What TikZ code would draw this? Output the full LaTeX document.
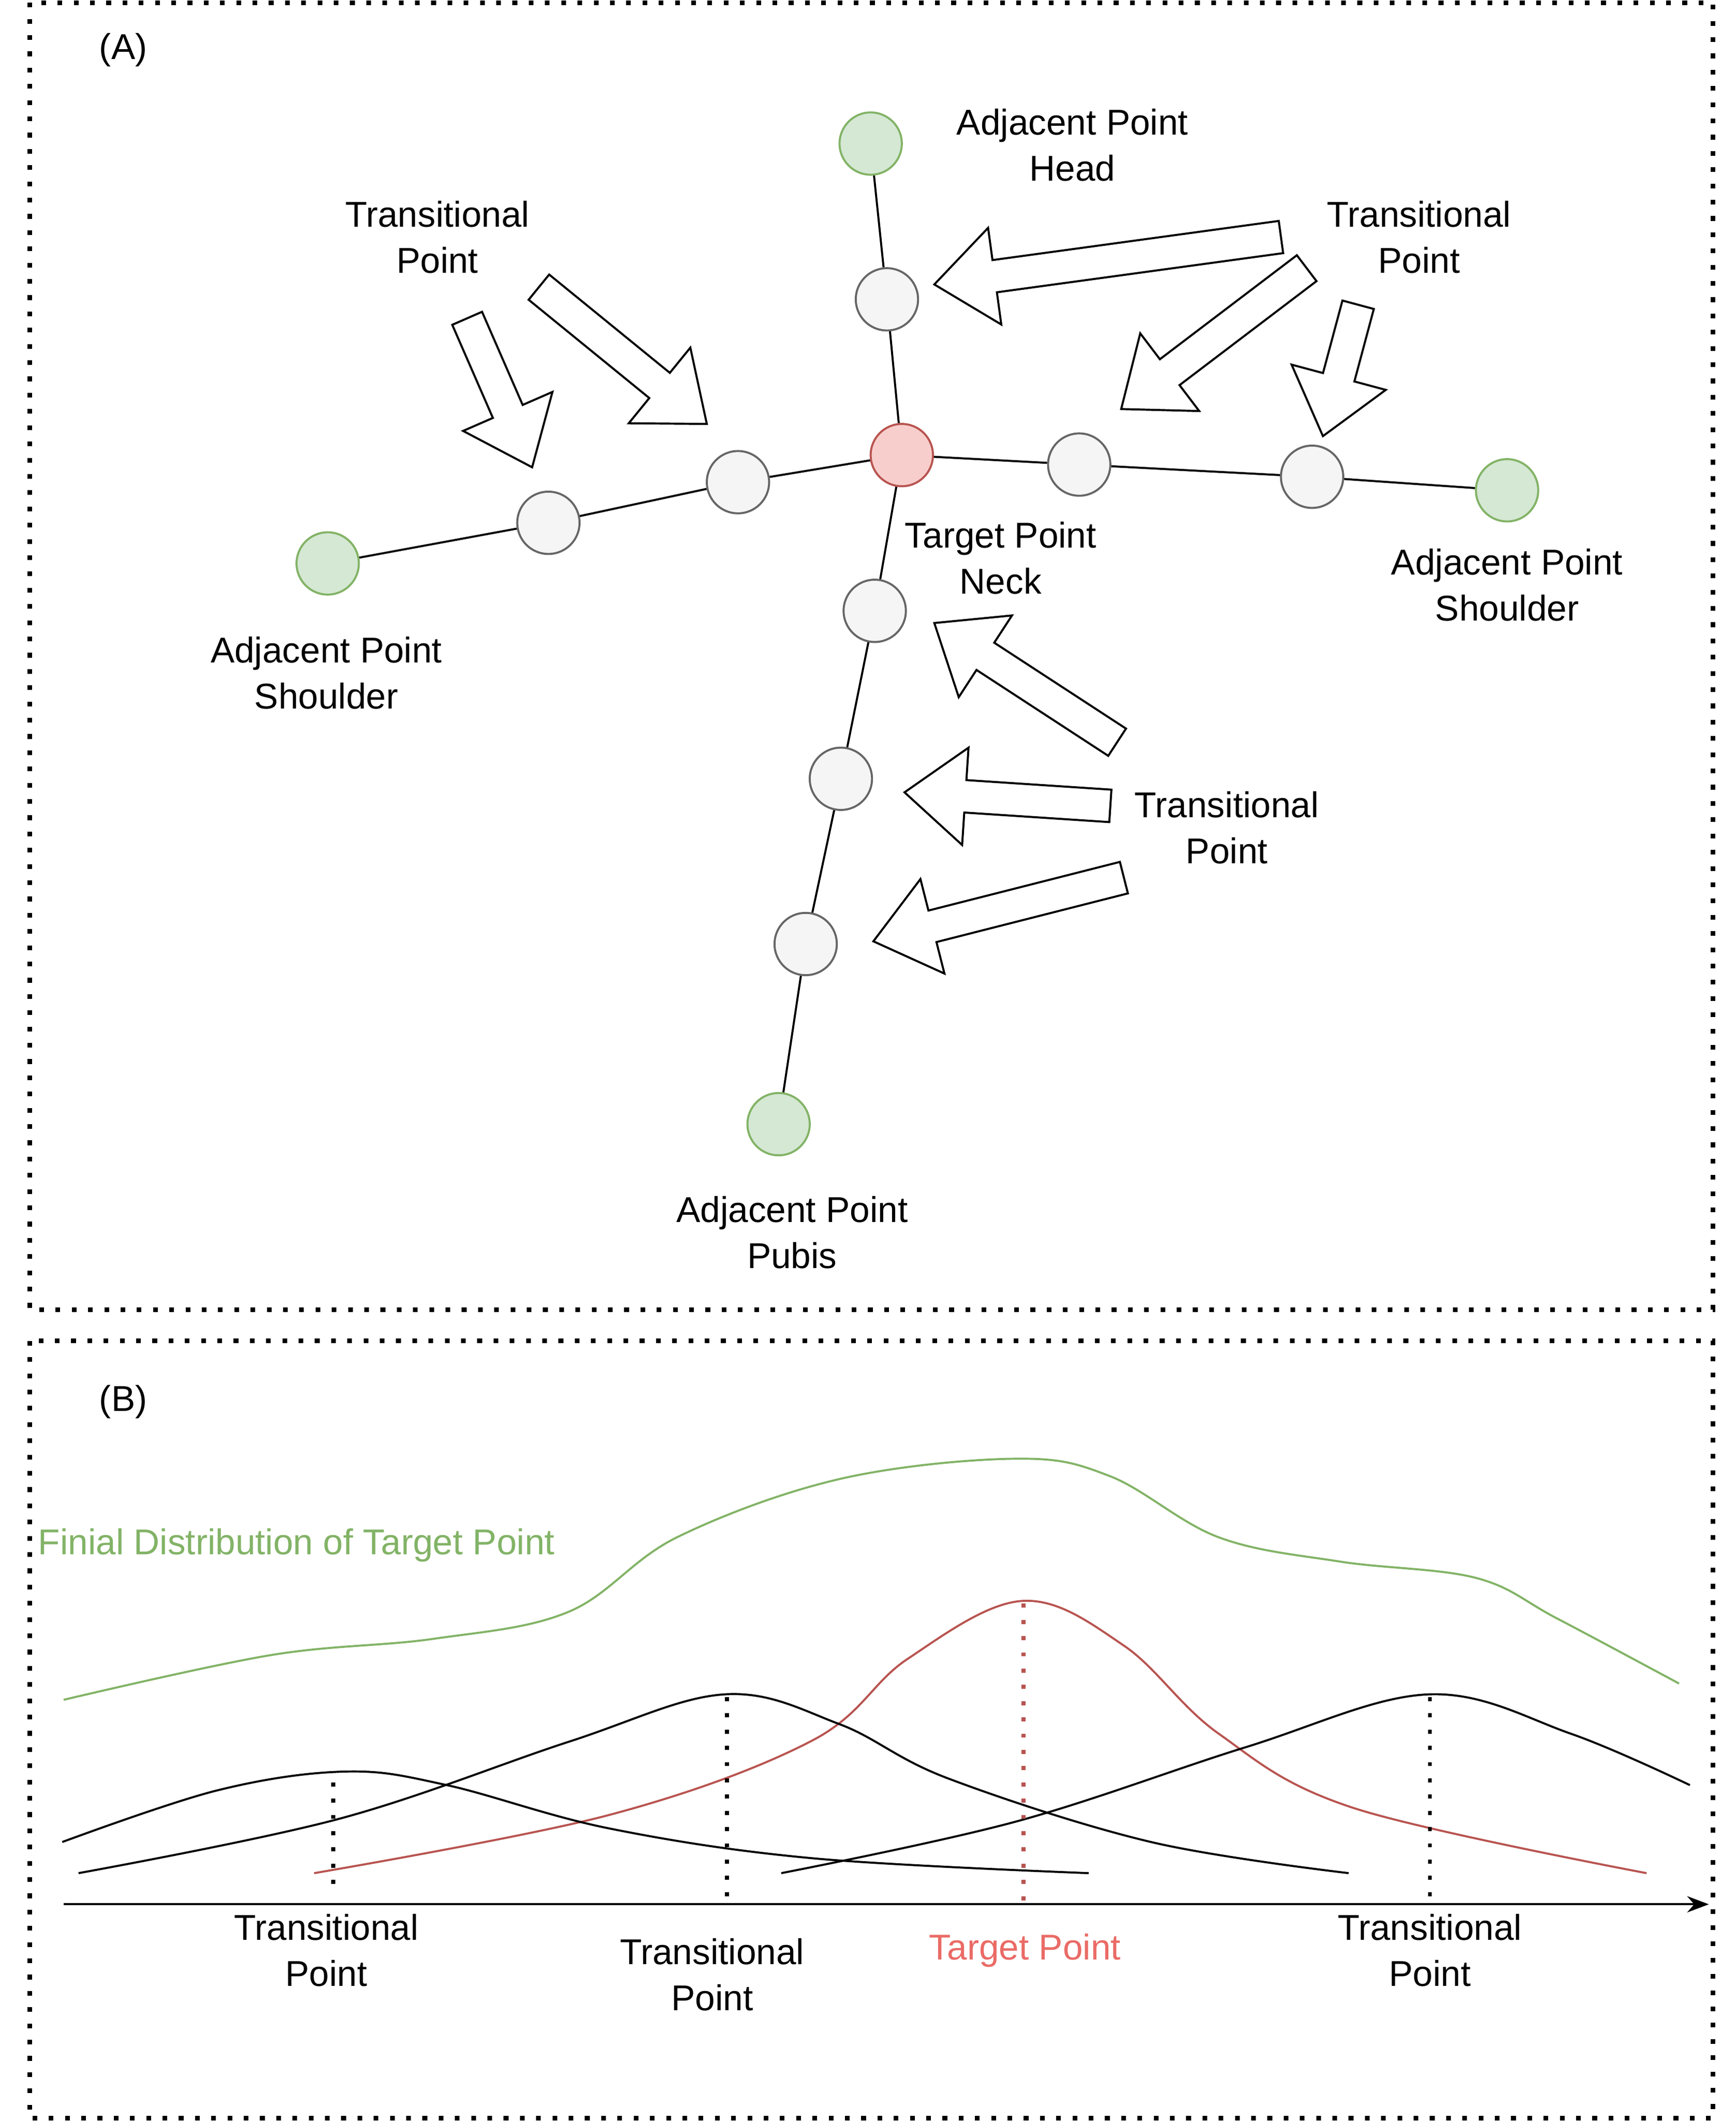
\documentclass[tikz,border=0pt]{standalone}
\usepackage{fontspec}
\setmainfont{Liberation Sans}
\usetikzlibrary{calc,arrows.meta}
\definecolor{gfill}{HTML}{D5E8D4}\definecolor{gdraw}{HTML}{82B366}
\definecolor{rfill}{HTML}{F8CECC}\definecolor{rdraw}{HTML}{B85450}
\definecolor{nfill}{HTML}{F5F5F5}\definecolor{ndraw}{HTML}{666666}
\definecolor{rtext}{HTML}{EA6B66}
\newcommand{\blockarr}[2]{\draw[blockarrow] ($(#1)!12pt!90:(#2)$) -- ($($(#2)!45pt!(#1)$)!12pt!90:(#2)$) -- ($($(#2)!45pt!(#1)$)!36pt!90:(#2)$) -- (#2) -- ($($(#2)!45pt!(#1)$)!36pt!-90:(#2)$) -- ($($(#2)!45pt!(#1)$)!12pt!-90:(#2)$) -- ($(#1)!12pt!-90:(#2)$) -- cycle;}
\begin{document}
\begin{tikzpicture}[x=1pt,y=-1pt,
  pt/.style={circle,minimum size=46pt,inner sep=0pt,line width=1.5pt},
  grn/.style={pt,fill=gfill,draw=gdraw},
  red/.style={pt,fill=rfill,draw=rdraw},
  gry/.style={pt,fill=nfill,draw=ndraw},
  edge/.style={line width=1.5pt},
  lbl/.style={align=center,font=\fontsize{26.5}{34}\selectfont},
  frame/.style={line width=3.5pt,dash pattern=on 3.5pt off 8.5pt},
  blockarrow/.style={line width=1.5pt,fill=white,line join=miter},
  curve/.style={line width=1.5pt},
  vdot/.style={line width=3pt,dash pattern=on 3pt off 9pt}]
\useasboundingbox (0,0) rectangle (1282,1566);
\draw[frame] (22,2) rectangle (1265,967);
\draw[frame] (22,990) rectangle (1265,1564);
\node[lbl] (la) at (91,37) {(A)};
\node[lbl] (lb) at (91,1035) {(B)};
% nodes
\node[grn] (head) at (643,106) {};
\node[gry] (h1) at (655,221) {};
\node[red] (neck) at (666,336) {};
\node[gry] (r1) at (797,343) {};
\node[gry] (r2) at (969,352) {};
\node[grn] (rs) at (1113,362) {};
\node[gry] (l1) at (545,356) {};
\node[gry] (l2) at (405,386) {};
\node[grn] (ls) at (242,416) {};
\node[gry] (d1) at (646,451) {};
\node[gry] (d2) at (621,575) {};
\node[gry] (d3) at (595,697) {};
\node[grn] (pub) at (575,830) {};
\draw[edge] (head)--(h1)--(neck)--(r1)--(r2)--(rs);
\draw[edge] (neck)--(l1)--(l2)--(ls);
\draw[edge] (neck)--(d1)--(d2)--(d3)--(pub);
% labels
\node[lbl] (t1) at (792,107) {Adjacent Point\\Head};
\node[lbl] (t2) at (323,175) {Transitional\\Point};
\node[lbl] (t3) at (1048,175) {Transitional\\Point};
\node[lbl] (t4) at (739,412) {Target Point\\Neck};
\node[lbl] (t5) at (1113,432) {Adjacent Point\\Shoulder};
\node[lbl] (t6) at (241,497) {Adjacent Point\\Shoulder};
\node[lbl] (t7) at (906,611) {Transitional\\Point};
\node[lbl] (t8) at (585,910) {Adjacent Point\\Pubis};
% block arrows
\coordinate (a1s) at (946,175); \coordinate (a1e) at (690,210);
\coordinate (a2s) at (965,198); \coordinate (a2e) at (828,302);
\coordinate (a3s) at (1003,225); \coordinate (a3e) at (977,322);
\coordinate (a4s) at (345,235); \coordinate (a4e) at (393,345);
\coordinate (a5s) at (398,212); \coordinate (a5e) at (522,313);
\coordinate (a6s) at (825,548); \coordinate (a6e) at (690,460);
\coordinate (a7s) at (820,595); \coordinate (a7e) at (668,585);
\coordinate (a8s) at (830,648); \coordinate (a8e) at (645,695);
\blockarr{a1s}{a1e}\blockarr{a2s}{a2e}\blockarr{a3s}{a3e}\blockarr{a4s}{a4e}
\blockarr{a5s}{a5e}\blockarr{a6s}{a6e}\blockarr{a7s}{a7e}\blockarr{a8s}{a8e}
% panel B
\coordinate (ax0) at (47,1406); \coordinate (ax1) at (1262,1406);
\draw[line width=1.5pt,-{Stealth[length=16pt,width=12pt]}] (ax0) -- (ax1);
\draw[curve,gdraw] plot[smooth,tension=0.6] coordinates {(47,1255) (200,1222) (320,1210) (420,1190) (500,1135) (620,1092) (750,1077) (820,1090) (900,1135) (990,1153) (1090,1165) (1150,1195) (1240,1243)};
\draw[curve,rdraw] plot[smooth,tension=0.6] coordinates {(232,1383) (450,1340) (600,1285) (670,1225) (755,1182) (830,1215) (900,1280) (1000,1335) (1216,1383)};
\draw[curve] plot[smooth,tension=0.6] coordinates {(46,1360) (160,1322) (255,1308) (330,1318) (450,1350) (600,1372) (804,1383)};
\draw[curve] plot[smooth,tension=0.6] coordinates {(58,1383) (250,1343) (420,1286) (535,1251) (620,1273) (700,1313) (850,1360) (996,1383)};
\draw[curve] plot[smooth,tension=0.6] coordinates {(577,1383) (750,1345) (920,1290) (1055,1251) (1160,1280) (1248,1318)};
\draw[vdot] (246,1316) -- (246,1398);
\draw[vdot] (537,1253) -- (537,1404);
\draw[vdot,rdraw] (756,1184) -- (756,1404);
\draw[vdot] (1056,1253) -- (1056,1404);
\node[lbl,text=gdraw,anchor=west,inner sep=0pt] (fd) at (28,1141) {Finial Distribution of Target Point};
\node[lbl] (b1) at (241,1440) {Transitional\\Point};
\node[lbl] (b2) at (526,1458) {Transitional\\Point};
\node[lbl,text=rtext] (b3) at (757,1440) {Target Point};
\node[lbl] (b4) at (1056,1440) {Transitional\\Point};
\end{tikzpicture}
\end{document}
